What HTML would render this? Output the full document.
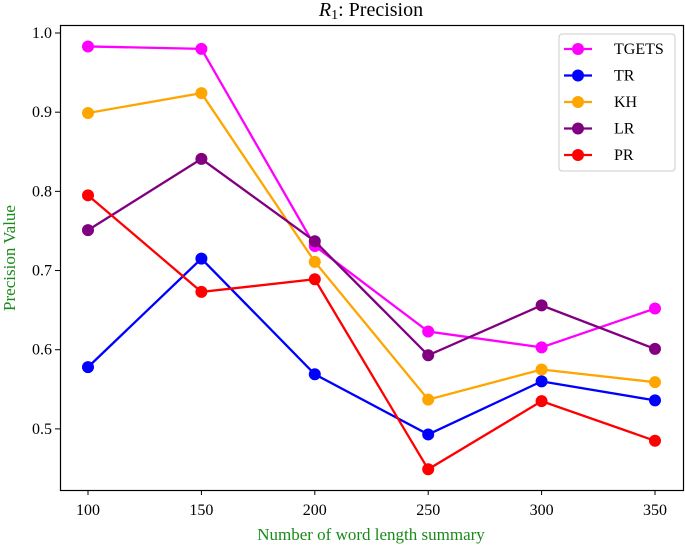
<!DOCTYPE html>
<html><head><meta charset="utf-8"><style>
body{margin:0;background:#fff;}
svg text{font-family:"Liberation Serif",serif;}
</style></head><body>
<svg width="685" height="544" xmlns="http://www.w3.org/2000/svg">
<g id="plot"></g>
</svg>
<script>
const categories=[100,150,200,250,300,350];
const yTicks=[0.5,0.6,0.7,0.8,0.9,1.0];
const seriesNames=["TGETS","TR","KH","LR","PR"];
const tgets=[0.983,0.980,0.731,0.623,0.603,0.652];
const tr=[0.578,0.715,0.569,0.493,0.560,0.536];
const kh=[0.899,0.924,0.711,0.537,0.575,0.559];
const lr=[0.751,0.841,0.737,0.593,0.656,0.601];
const pr=[0.795,0.673,0.689,0.449,0.535,0.485];
const colors=["#ff00ff","#0000ff","#ffa500","#800080","#ff0000"];
const series=[tgets,tr,kh,lr,pr];
const NS="http://www.w3.org/2000/svg";
const svg=document.querySelector('svg');
function x(v){return 88+(v-100)/250*(655-88);}
function y(v){return 428.9-(v-0.5)/0.5*(428.9-33);}
function mk(t,a,p){const e=document.createElementNS(NS,t);for(const k in a)e.setAttribute(k,a[k]);(p||svg).appendChild(e);return e;}
let frame=mk('rect',{x:60.5,y:25.5,width:623,height:465,fill:'none',stroke:'#000','stroke-width':1.2});


categories.forEach(c=>{
 let t=mk('line',{x1:x(c),x2:x(c),y1:490,y2:495,stroke:'#000'});
 
 
 let l=mk('text',{x:x(c),y:515,'text-anchor':'middle','font-size':16});l.textContent=c;
 
 
});
yTicks.forEach(v=>{
 let t=mk('line',{x1:55,x2:60,y1:y(v),y2:y(v),stroke:'#000'});
 
 
 let l=mk('text',{x:52,y:y(v)+5,'text-anchor':'end','font-size':16});l.textContent=v.toFixed(1);
 
 
});
series.forEach((s,i)=>{
 const g=mk('g',{});
 
 
 let pl=mk('polyline',{points:s.map((v,j)=>x(categories[j])+','+y(v)).join(' '),fill:'none',stroke:colors[i],'stroke-width':2.3},g);
 
 
 s.forEach((v,j)=>{let c=mk('circle',{cx:x(categories[j]),cy:y(v),r:6,fill:colors[i]},g);
 
 });
});
const lg=mk('g',{});


mk('rect',{x:559,y:34,width:116,height:137,rx:3,fill:'#fff',stroke:'#ccc'},lg);
seriesNames.forEach((n,i)=>{
 const yy=49+i*26.5;
 const e=mk('g',{},lg);
 
 
 mk('line',{x1:564,x2:592,y1:yy,y2:yy,stroke:colors[i],'stroke-width':2.3},e);
 mk('circle',{cx:578,cy:yy,r:6,fill:colors[i]},e);
 let t=mk('text',{x:614,y:yy+5,'font-size':16},e);t.textContent=n;
});
let ti=mk('text',{x:371,y:16,'text-anchor':'middle','font-size':20});
ti.innerHTML='<tspan font-style="italic">R</tspan><tspan font-size="14" dy="3">1</tspan><tspan dy="-3">: Precision</tspan>';


let xt=mk('text',{x:371,y:540,'text-anchor':'middle','font-size':17,fill:'#1a8a1a'});xt.textContent='Number of word length summary';


let yt=mk('text',{x:0,y:0,'text-anchor':'middle','font-size':17,fill:'#1a8a1a',transform:'translate(15,258) rotate(-90)'});yt.textContent='Precision Value';


</script>
</body></html>
